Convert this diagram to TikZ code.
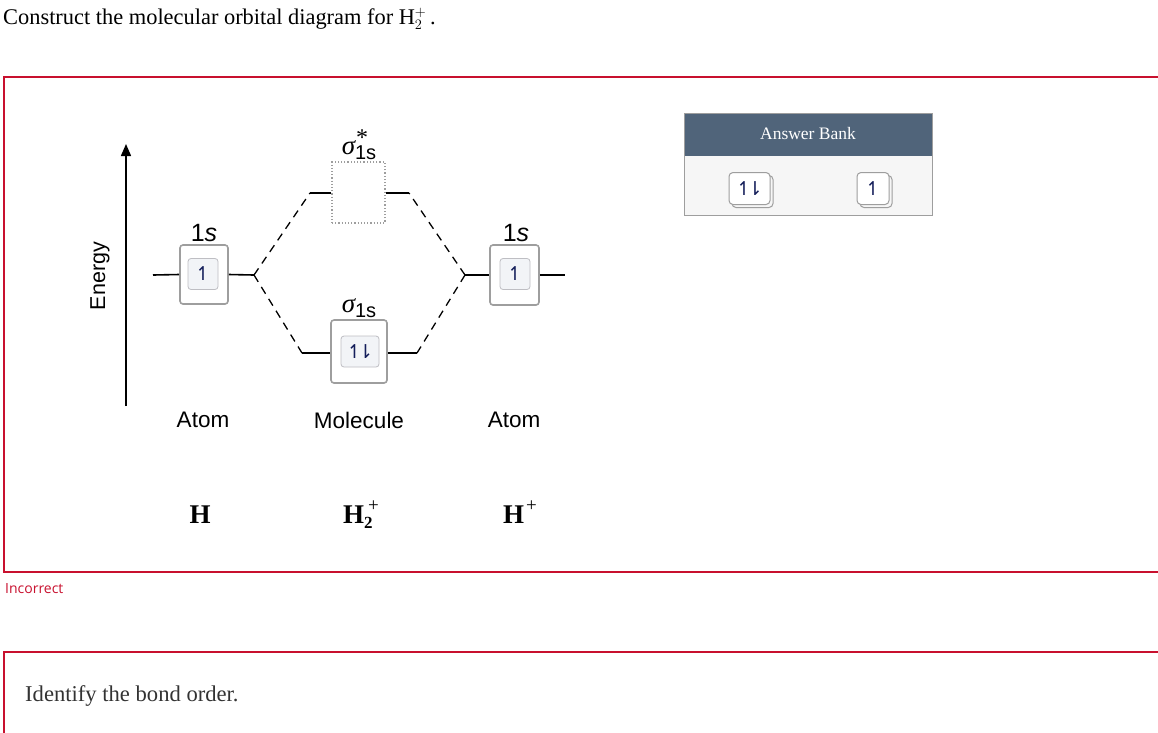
\documentclass[tikz,border=0pt]{standalone}
\usepackage{fontspec}
\setmainfont{Liberation Serif}
\setsansfont{Liberation Sans}
\newfontfamily\dejavu{DejaVu Sans}
\newfontfamily\uifont{Open Sans}
\usetikzlibrary{arrows.meta}
\definecolor{errred}{RGB}{200,16,46}
\definecolor{boxgray}{RGB}{158,158,158}
\definecolor{innerfill}{RGB}{242,244,247}
\definecolor{innerdraw}{RGB}{190,190,195}
\definecolor{spin}{RGB}{20,30,90}
\definecolor{bankhead}{RGB}{80,100,122}
\definecolor{bankbody}{RGB}{246,246,246}
\newcommand{\spinup}{↿}
\newcommand{\spinpair}{↿\kern-5pt⇂}
\tikzset{
  outerbox/.style={draw=boxgray,line width=1.6pt,rounded corners=3pt,fill=white},
  innerbox/.style={draw=innerdraw,line width=0.8pt,rounded corners=3pt,fill=innerfill},
  emptybox/.style={draw=boxgray,line width=1.2pt,dotted},
  level/.style={line width=1.6pt,black},
  corr/.style={line width=1.3pt,black,dash pattern=on 8pt off 6pt},
  lbl/.style={font=\sffamily\fontsize{22.5}{22.5}\selectfont},
  orb/.style={font=\sffamily\fontsize{25}{25}\selectfont},
  spintxt/.style={text=spin,font=\dejavu\fontsize{19}{19}\selectfont,inner sep=0pt},
  tile/.style={draw=boxgray,line width=1pt,rounded corners=4pt,fill=white},
  species/.style={font=\bfseries\fontsize{27}{27}\selectfont,inner sep=0pt},
}
\begin{document}
\begin{tikzpicture}[x=1pt,y=-1pt]
\useasboundingbox (0,0) rectangle (1158,732);
% title
\node[anchor=base west,inner sep=0,font=\fontsize{22.4}{22.4}\selectfont] (title) at (3,24)
  {Construct the molecular orbital diagram for H$_2^+$\,.};
% red frames
\draw[errred,line width=1.6pt] (1158,77) -- (4,77) -- (4,572) -- (1158,572);
\node[anchor=base west,inner sep=0,text=errred,font=\uifont\fontsize{14}{14}\selectfont] (incorrect) at (5,593) {Incorrect};
\draw[errred,line width=1.6pt] (1158,652) -- (4,652) -- (4,733);
\node[anchor=base west,inner sep=0,text=black!80,font=\fontsize{22.6}{22.6}\selectfont] (identify) at (25,701) {Identify the bond order.};
% energy axis
\coordinate (ebot) at (126,406);
\coordinate (etop) at (126,144);
\draw[line width=1.5pt,-{Triangle[length=12pt,width=10pt]}] (ebot) -- (etop);
\node[rotate=90,font=\sffamily\fontsize{21.5}{21.5}\selectfont] (energy) at (100,276) {Energy};
% left atom 1s
\node[outerbox,minimum width=48pt,minimum height=59pt] (la) at (204,274.5) {};
\node[innerbox,minimum width=30pt,minimum height=31pt,spintxt] (lai) at (203,274) {\spinup};
\node[orb,anchor=base] (l1s) at (204,241) {1\textit{s}};
% right atom 1s
\node[outerbox,minimum width=49pt,minimum height=60pt] (ra) at (514.5,275) {};
\node[innerbox,minimum width=30pt,minimum height=31pt,spintxt] (rai) at (515,274) {\spinup};
\node[orb,anchor=base] (r1s) at (516,241) {1\textit{s}};
% antibonding
\node[emptybox,minimum width=53pt,minimum height=61pt] (ab) at (358.5,192.5) {};
\node[anchor=base,inner sep=0] (abl) at (359,154)
  {\fontsize{27}{27}\selectfont\itshape σ\rlap{\raisebox{9pt}{\upshape\fontsize{24}{24}\selectfont\hspace{1pt}*}}\raisebox{-5pt}{\upshape\sffamily\fontsize{20}{20}\selectfont 1s}};
% bonding
\node[outerbox,minimum width=56pt,minimum height=63pt] (b) at (359,351.5) {};
\node[innerbox,minimum width=38pt,minimum height=31pt,spintxt] (bi) at (360,351.5) {\spinpair};
\node[anchor=base,inner sep=0] (bl) at (359,312)
  {\fontsize{27}{27}\selectfont\itshape σ\raisebox{-5pt}{\upshape\sffamily\fontsize{20}{20}\selectfont 1s}};
% level lines and correlation coordinates
\coordinate (lx) at (153,275);
\coordinate (lj) at (254,275);
\coordinate (rj) at (465,275);
\coordinate (rx) at (565,275);
\coordinate (abl1) at (310,193);
\coordinate (abr1) at (409,193);
\coordinate (bl1) at (302,353);
\coordinate (br1) at (417,353);
\draw[level] (lx) -- (la.west);
\draw[level] (la.east) -- (lj);
\draw[level] (rj) -- (ra.west);
\draw[level] (ra.east) -- (rx);
\draw[level] (abl1) -- (ab.west |- abl1);
\draw[level] (ab.east |- abr1) -- (abr1);
\draw[level] (bl1) -- (b.west |- bl1);
\draw[level] (b.east |- br1) -- (br1);
\draw[corr] (lj) -- (abl1);
\draw[corr] (lj) -- (bl1);
\draw[corr] (rj) -- (abr1);
\draw[corr] (rj) -- (br1);
% captions
\node[lbl] (atl) at (203,420) {Atom};
\node[lbl] (mol) at (359,420) {Molecule};
\node[lbl] (atr) at (514,420) {Atom};
\node[species,anchor=base] (hl) at (200,523) {H};
\node[species,anchor=base west] (hm) at (343,523) {H\rlap{\raisebox{-5pt}{\fontsize{17}{17}\selectfont 2}}\raisebox{12pt}{\mdseries\fontsize{19}{19}\selectfont\hspace{4pt}+}};
\node[species,anchor=base west] (hr) at (503,523) {H\raisebox{12pt}{\mdseries\fontsize{19}{19}\selectfont\hspace{2pt}+}};
% answer bank
\draw[draw=boxgray,fill=bankbody,line width=1pt] (684,113) rectangle (932,215);
\fill[bankhead] (684.5,113.5) rectangle (931.5,156);
\node[text=white,font=\fontsize{17.5}{17.5}\selectfont] (bankt) at (808,134) {Answer Bank};
\node[tile,fill=bankbody,minimum width=41pt,minimum height=32pt] (t1s) at (752.5,191.5) {};
\node[tile,minimum width=41pt,minimum height=32pt,spintxt] (t1) at (749.5,188.5) {\spinpair};
\node[tile,fill=bankbody,minimum width=32pt,minimum height=32pt] (t2s) at (876,191.5) {};
\node[tile,minimum width=32pt,minimum height=32pt,spintxt] (t2) at (873,188.5) {\spinup};
\end{tikzpicture}
\end{document}
